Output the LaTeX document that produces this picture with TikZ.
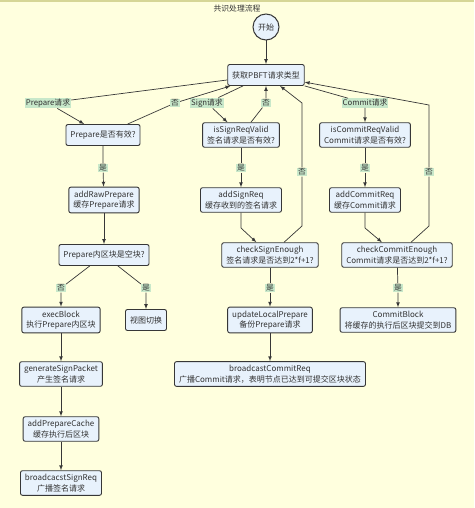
\documentclass[tikz,border=0pt]{standalone}
\usepackage{fontspec}
\newfontfamily\cjkfont{Noto Sans CJK SC}
\usepackage{tikz}
\usetikzlibrary{shapes,arrows,positioning,calc}
\usepackage{xcolor}
\definecolor{pagebg}{RGB}{255,255,222}
\definecolor{topbar}{RGB}{214,214,150}
\definecolor{boxfill}{RGB}{232,242,252}
\definecolor{boxline}{RGB}{55,55,55}
\definecolor{lblgreen}{RGB}{200,232,202}
\definecolor{txtgray}{RGB}{50,50,50}

\begin{document}
\begin{tikzpicture}[x=1pt, y=-1pt,
  box/.style={draw=boxline, line width=0.9pt, rounded corners=2pt, fill=boxfill, text=txtgray,
    font=\cjkfont\fontsize{8}{10.5}\selectfont, align=center, inner xsep=4.5pt, inner ysep=3.5pt, minimum height=21pt},
  lbl/.style={fill=lblgreen, text=txtgray, font=\cjkfont\fontsize{7.8}{9}\selectfont, inner sep=1pt},
  flow/.style={-latex, draw=boxline, line width=0.7pt}]
% Background
\fill[pagebg] (0,0) rectangle (474,508);
\fill[topbar] (0,0) rectangle (474,2.5);
\useasboundingbox (0,0) rectangle (474,508);

% Title and start
\node[text=txtgray, font=\cjkfont\fontsize{7.8}{9}\selectfont] (title) at (237,9) {共识处理流程};
\node[draw=boxline, line width=1pt, circle, fill=boxfill, minimum size=26pt, inner sep=0pt, text=txtgray, font=\cjkfont\fontsize{8}{9}\selectfont] (start) at (266,27) {开始};
\node[box] (getType) at (266,75) {获取PBFT请求类型};

% Checks
\node[box] (prepValid) at (103,135) {Prepare是否有效?};
\node[box] (signValid) at (241,135) {isSignReqValid\\签名请求是否有效?};
\node[box] (commitValid) at (365,135) {isCommitReqValid\\Commit请求是否有效?};

% Caches
\node[box] (addRaw) at (104,200) {addRawPrepare\\缓存Prepare请求};
\node[box] (addSign) at (241,200) {addSignReq\\缓存收到的签名请求};
\node[box] (addCommit) at (365,200) {addCommitReq\\缓存Commit请求};

% Second checks
\node[box] (emptyQ) at (104,255) {Prepare内区块是空块?};
\node[box] (checkSign) at (270,255) {checkSignEnough\\签名请求是否达到2*f+1?};
\node[box] (checkCommit) at (397,255) {checkCommitEnough\\Commit请求是否达到2*f+1?};

% Actions
\node[box] (execBlock) at (61,320) {execBlock\\执行Prepare内区块};
\node[box] (viewChange) at (146,320) {视图切换};
\node[box] (updatePrep) at (270,320) {updateLocalPrepare\\备份Prepare请求};
\node[box] (commitBlock) at (398,320) {CommitBlock\\将缓存的执行后区块提交到DB};
\node[box] (genSign) at (61,374) {generateSignPacket\\产生签名请求};
\node[box] (bcastCommit) at (270,374) {broadcastCommitReq\\广播Commit请求，表明节点已达到可提交区块状态};
\node[box] (addCache) at (61,429) {addPrepareCache\\缓存执行后区块};
\node[box] (bcastSign) at (61,483) {broadcacstSignReq\\广播签名请求};

% Edge labels
\node[lbl] (lPrep) at (48,103) {Prepare请求};
\node[lbl] (lNoPrep) at (175,103) {否};
\node[lbl] (lSign) at (207,103) {Sign请求};
\node[lbl] (lNoSign) at (266,103) {否};
\node[lbl] (lCommit) at (365,103) {Commit请求};
\node[lbl] (lNoSignEn) at (302,172) {否};
\node[lbl] (lNoCommitEn) at (429,172) {否};
\node[lbl] (lYesPrep) at (103,168) {是};
\node[lbl] (lYesSign) at (241,168) {是};
\node[lbl] (lYesCommit) at (365,168) {是};
\node[lbl] (lNoEmpty) at (61,288) {否};
\node[lbl] (lYesEmpty) at (146,288) {是};
\node[lbl] (lYesSignEn) at (270,288) {是};
\node[lbl] (lYesCommitEn) at (398,288) {是};

% Bends
\coordinate (signUp) at (302,226);
\coordinate (signTop) at (302,103);
\coordinate (commitUp) at (429,226);
\coordinate (commitTop) at (429,105);
\coordinate (signJoin) at (241,228);
\coordinate (commitJoin) at (365,228);

% Main flow
\draw[flow] (start) -- (getType);
\draw[flow] (getType) -- (lPrep) -- (prepValid);
\draw[flow] (prepValid) -- (lNoPrep) -- (getType);
\draw[flow] (getType) -- (lSign) -- (signValid);
\draw[flow] (signValid) -- (lNoSign) -- (getType);
\draw[flow] (getType) -- (lCommit) -- (commitValid);

% Return arrows
\draw[flow] (checkSign) -- (signUp) -- (lNoSignEn) -- (signTop) -- (getType);
\draw[flow] (checkCommit) -- (commitUp) -- (lNoCommitEn) -- (commitTop) -- (getType);

% Yes branches
\draw[flow] (prepValid) -- (lYesPrep) -- (addRaw);
\draw[flow] (signValid) -- (lYesSign) -- (addSign);
\draw[flow] (commitValid) -- (lYesCommit) -- (addCommit);
\draw[flow] (addRaw) -- (emptyQ);
\draw[flow] (addSign) -- (signJoin) -- (checkSign);
\draw[flow] (addCommit) -- (commitJoin) -- (checkCommit);
\draw[flow] (emptyQ) -- (lNoEmpty) -- (execBlock);
\draw[flow] (emptyQ) -- (lYesEmpty) -- (viewChange);
\draw[flow] (checkSign) -- (lYesSignEn) -- (updatePrep);
\draw[flow] (checkCommit) -- (lYesCommitEn) -- (commitBlock);
\draw[flow] (updatePrep) -- (bcastCommit);

% Prepare chain
\draw[flow] (execBlock) -- (genSign);
\draw[flow] (genSign) -- (addCache);
\draw[flow] (addCache) -- (bcastSign);
\end{tikzpicture}
\end{document}
